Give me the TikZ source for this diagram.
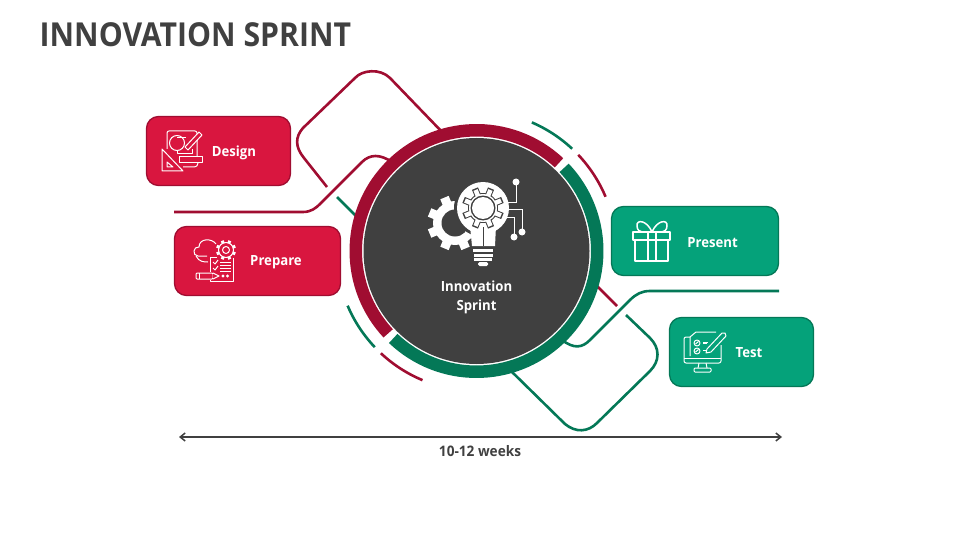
\documentclass[tikz,border=0pt]{standalone}
\usepackage{fontspec}
\setmainfont{Open Sans}[FakeStretch=0.94]
\newfontfamily\titlefont{Open Sans}[FakeStretch=0.915]
\usetikzlibrary{arrows.meta}
\definecolor{redfill}{HTML}{D9163F}
\definecolor{redline}{HTML}{A00D31}
\definecolor{greenfill}{HTML}{05A27A}
\definecolor{greenline}{HTML}{047857}
\definecolor{darkgrey}{HTML}{404040}
\tikzset{
    box/.style={draw, rounded corners=12pt, line width=1.3pt, inner sep=0pt},
    redbox/.style={box, fill=redfill, draw=redline},
    greenbox/.style={box, fill=greenfill, draw=greenline},
    boxtext/.style={text=white, font=\fontsize{14}{17}\selectfont\bfseries},
    redthin/.style={draw=redline, line width=2.6pt},
    greenthin/.style={draw=greenline, line width=2.6pt},
    icon/.style={draw=white, line width=1pt, line join=round},
}
% teeth of a gear: centre, inner radius, outer radius, width, colour
\newcommand{\gearteeth}[5]{
    \foreach \a in {0,45,...,315}
        \draw[#5, line width=#4] (#1) ++(\a+22.5:#2) -- ++(\a+22.5:#3-#2);
}
\begin{document}
\begin{tikzpicture}[x=1pt,y=-1pt]
    \useasboundingbox (0,0) rectangle (960,540);
    \node[anchor=west, text=darkgrey, inner sep=0pt, font=\titlefont\fontsize{33}{38}\selectfont\bfseries] (title) at (39.5,34.5) {INNOVATION SPRINT};

    % thin lines behind the ring
    \draw[redthin] (327,187) -- (304,158) .. controls (295,147) and (295,137) .. (303,128) -- (355,78) .. controls (362,70) and (380,68) .. (390,78) -- (444,134); %red loop
    \draw[redthin] (174,212) -- (303,212) .. controls (311,212) and (316,208) .. (320,204) -- (362,162) .. controls (370,154) and (380,154) .. (392,162);
    \draw[greenthin] (337,197) -- (358,218);
    \draw[redthin] (596,285) -- (617,306);
    \draw[greenthin] (779,291) -- (650,291) .. controls (642,291) and (636,294) .. (630,300) -- (590,340) .. controls (582,348) and (574,349) .. (562,340);
    \draw[greenthin] (626,315) -- (650,338) .. controls (660,348) and (660,361) .. (650,371) -- (597,423) .. controls (588,432) and (576,433) .. (565,424) -- (510,370); %green loop

    \coordinate (centre) at (476.5,251);
    \draw[greenthin] (centre) ++(66.7:140pt) arc[start angle=66.7, end angle=46.9, radius=140pt];
    \draw[redthin] (centre) ++(43.4:140pt) arc[start angle=43.4, end angle=22.8, radius=140pt];
    \draw[greenthin] (centre) ++(203:140pt) arc[start angle=203, end angle=223.4, radius=140pt];
    \draw[redthin] (centre) ++(226.9:140pt) arc[start angle=226.9, end angle=247.3, radius=140pt];

    % ring
    \draw[redline, line width=12.5pt] (centre) ++(46.9:120.75pt) arc[start angle=46.9, end angle=223, radius=120.75pt];
    \draw[greenline, line width=12.5pt] (centre) ++(43.5:120.75pt) arc[start angle=43.5, end angle=-133.6, radius=120.75pt];
    \fill[darkgrey] (centre) circle[radius=113pt];

    % boxes
    \node[redbox, minimum width=144pt, minimum height=69pt] (design) at (218.5,151) {};
    \node[redbox, minimum width=166pt, minimum height=69pt] (prepare) at (257.5,261) {};
    \node[greenbox, minimum width=167pt, minimum height=69pt] (present) at (695,241) {};
    \node[greenbox, minimum width=144pt, minimum height=69pt] (test) at (741.5,352) {};
    \node[boxtext] (designtext) at (234,152.5) {Design};
    \node[boxtext] (preparetext) at (276,262.5) {Prepare};
    \node[boxtext] (presenttext) at (712.5,243) {Present};
    \node[boxtext] (testtext) at (749,353) {Test};
    \node[boxtext, align=center, font=\fontsize{14}{19}\selectfont\bfseries] (sprint) at (476.5,297) {Innovation\\Sprint};

    % big gear
    \coordinate (biggear) at (455,223);
    \fill[white] (biggear) circle[radius=22pt];
    \gearteeth{biggear}{20pt}{27.5pt}{9pt}{white}
    \fill[darkgrey] (biggear) circle[radius=13.5pt];
    % bulb
    \coordinate (bulb) at (483,208);
    \fill[darkgrey] (bulb) circle[radius=29pt];
    \fill[white] (bulb) circle[radius=26pt];
    \fill[white] (470,226) -- (496,226) -- (495,246) -- (472,246) -- cycle;
    \fill[darkgrey] (bulb) circle[radius=15pt];
    \gearteeth{bulb}{14pt}{21pt}{6.5pt}{darkgrey}
    \fill[white] (bulb) circle[radius=14pt];
    \gearteeth{bulb}{13pt}{19.5pt}{4.5pt}{white}
    \fill[darkgrey] (bulb) circle[radius=12.5pt];
    \fill[white] (bulb) circle[radius=11pt];
    \draw[darkgrey, line width=1pt] (483,227) -- (483,246);
    \foreach \y/\w in {249/10,253.5/9.5,258/9}
        \fill[white] (483-\w,\y) rectangle (483+\w,\y+3);
    \fill[white, rounded corners=1.5pt] (478,262) rectangle (488,266);
    \draw[white, line width=1pt] (507,202) -- (516,202) -- (516,182);
    \draw[white, line width=1pt] (508,209) -- (522,209) -- (522,232);
    \draw[white, line width=1pt] (507,217) -- (514,217) -- (514,237);
    \foreach \p in {(516,182),(522,232),(514,237)}
        \fill[white] \p circle[radius=3.5pt];

    % design icon
    \draw[icon, rounded corners=2pt] (167,149) -- (167,131) -- (197,131) -- (197,157);
    \draw[icon] (177,143) circle[radius=7.5pt];
    \draw[icon] (177,138) -- (186,138);
    \draw[icon] (192,149) -- (192,154) -- (177,154) -- (177,150);
    \draw[icon, fill=redfill] (185,147) -- (199,132) -- (202,135) -- (188,150) -- cycle;
    \draw[icon] (162,149) -- (183,171) -- (162,171) -- cycle;
    \draw[icon] (167,162) -- (173,167) -- (167,167) -- cycle;
    \draw[icon] (179,157) rectangle (202,163);
    \draw[icon] (183,167) -- (193,167) .. controls (197,167) and (198,165) .. (198,163);

    % prepare icon
    \draw[icon] (207,256) -- (198,256) .. controls (192,256) and (193,246) .. (199,247) .. controls (199,238) and (212,238) .. (216,244);
    \draw[icon] (196,256) .. controls (199,262) and (204,262) .. (208,262);
    \fill[redfill] (226,250) circle[radius=8pt];
    \gearteeth{226,250}{7pt}{10pt}{3pt}{white}
    \draw[icon] (226,250) circle[radius=7.5pt];
    \draw[icon] (226,250) circle[radius=3.5pt];
    \draw[icon] (210,272) -- (210,257) -- (217,257);
    \draw[icon] (233,258) -- (233,281) -- (210,281) -- (210,280);
    \foreach \y in {262,268}
        \draw[icon] (213,\y) -- ++(2,2) -- ++(3,-4);
    \foreach \y in {262,265,268,271}
        \draw[icon] (220,\y) -- (231,\y);
    \draw[icon, fill=redfill, rounded corners=1pt] (196,273) rectangle (213,279);
    \draw[icon, fill=redfill] (213,273) -- (219,276) -- (213,279);
    \draw[icon] (199,273) -- (199,279);
    \foreach \p in {(223,276),(227.5,276)}
        \fill[white] \p circle[radius=1.6pt];

    % present icon
    \draw[icon, line width=1.5pt] (635,240) -- (635,261) -- (668,261) -- (668,240);
    \draw[icon, line width=1.5pt] (633,232) rectangle (670,240);
    \draw[icon, line width=1.5pt] (648,232) -- (648,261);
    \draw[icon, line width=1.5pt] (656,232) -- (656,261);
    \draw[icon, line width=1.5pt] (652,232) .. controls (647,220) and (636,219) .. (637,226) .. controls (637,230) and (640,232) .. (642,232);
    \draw[icon, line width=1.5pt] (652,232) .. controls (657,220) and (668,219) .. (667,226) .. controls (667,230) and (664,232) .. (662,232);

    % test icon
    \draw[icon, rounded corners=2pt] (690,337) -- (684,337) -- (684,363) -- (721,363) -- (721,345);
    \draw[icon] (684,358) -- (721,358);
    \draw[icon] (690,356) -- (690,337) -- (696,332) -- (716,332);
    \draw[icon] (699,363) -- (698,368) (706,363) -- (707,368);
    \draw[icon, rounded corners=1pt] (694,368) rectangle (711,372);
    \foreach \y in {343,351}{
        \draw[icon] (697,\y) circle[radius=3pt];
        \draw[icon] (695.5,\y+1) -- (698.5,\y-1.5);
        \draw[icon] (703,\y-1) -- (708,\y-1);
    }
    \draw[icon] (703,343.5) -- (707,343.5);
    \draw[icon, fill=greenfill] (707,349) -- (722,333) -- (725,333) -- (726,336) -- (711,352) -- (706,353) -- cycle;

    % arrow
    \node[text=darkgrey, inner sep=0pt, font=\fontsize{14.5}{17}\selectfont\bfseries] (weeks) at (480,451.5) {10-12 weeks};
    \coordinate (start) at (179,437);
    \coordinate (end) at (782,437);
    \draw[darkgrey, line width=1.5pt, {Straight Barb[length=5pt,width=8pt]}-{Straight Barb[length=5pt,width=8pt]}] (start) -- (end);
\end{tikzpicture}
\end{document}
